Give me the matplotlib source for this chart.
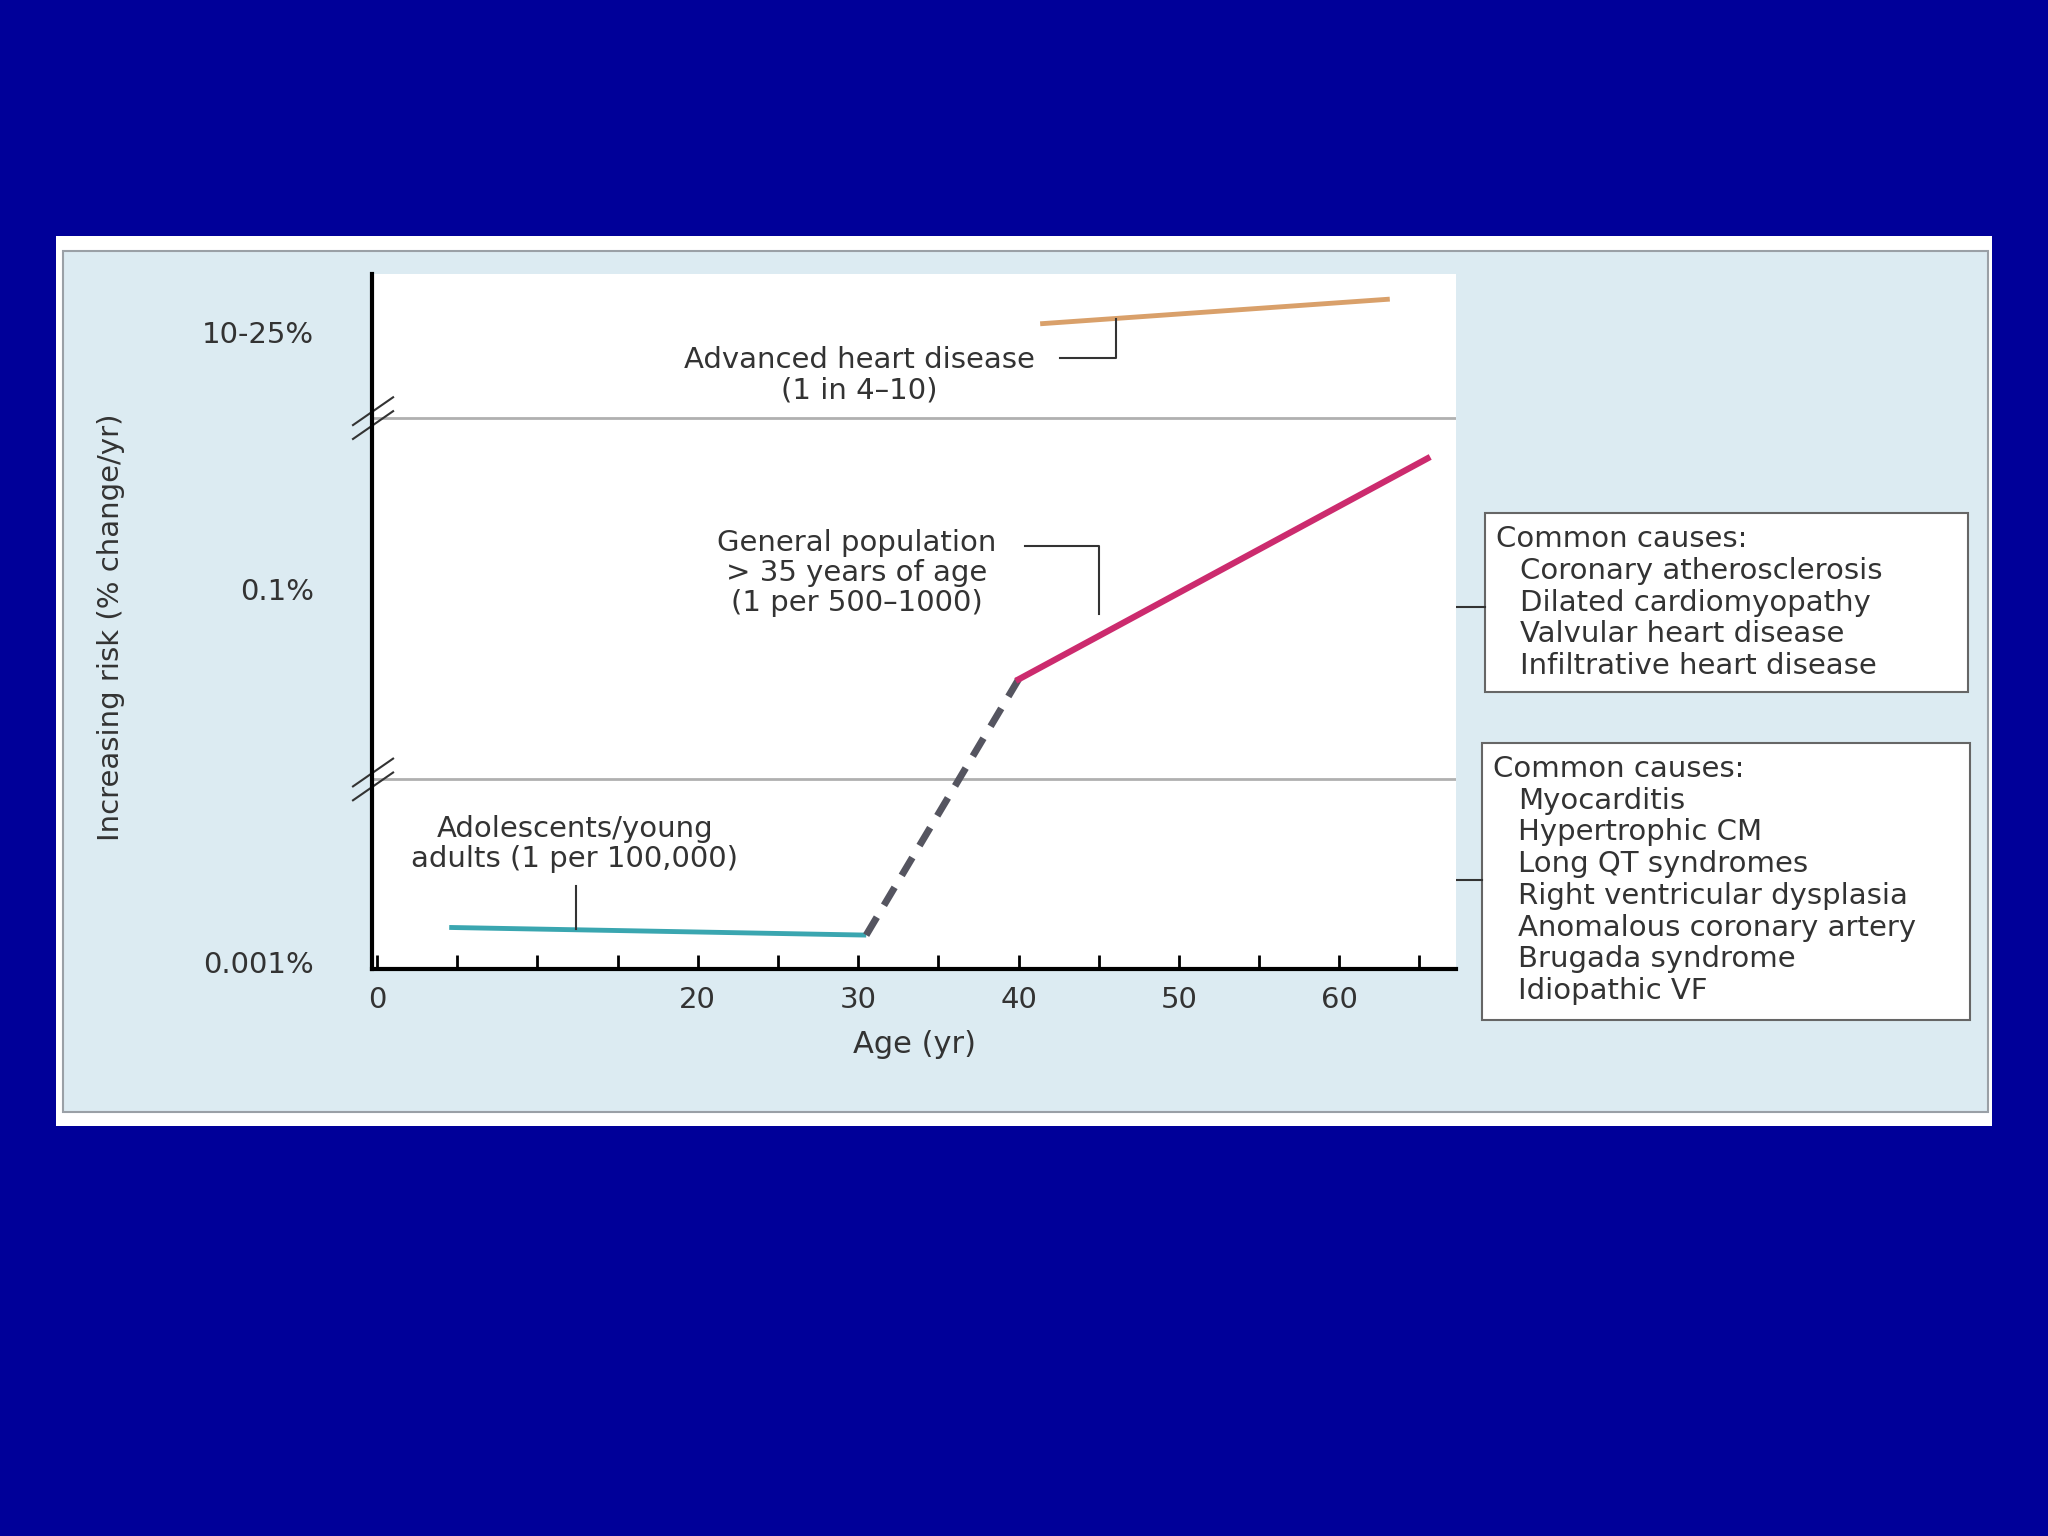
import matplotlib
matplotlib.use("Agg")
import matplotlib.pyplot as plt
from matplotlib.patches import Rectangle
from matplotlib.lines import Line2D

plt.rcParams['font.family'] = ['DejaVu Sans']

# data (arbitrary risk scale 0-100 with breaks)
young_age = [4.5, 30.5]; young_risk = [6.0, 4.9]
trans_age = [30.5, 40.0]; trans_risk = [4.9, 41.7]
gen_age = [40.0, 65.5]; gen_risk = [41.7, 73.5]
adv_age = [41.5, 63.0]; adv_risk = [92.9, 96.4]
ytick_pos = [1.0, 54.7, 91.7]
ytick_labels = ['0.001%', '0.1%', '10-25%']
xticks = [0, 10, 20, 30, 40, 50, 60]
xtick_labels = ['0', '', '20', '30', '40', '50', '60']
breaks = [27.3, 79.3]
causes1 = ['Coronary atherosclerosis', 'Dilated cardiomyopathy', 'Valvular heart disease', 'Infiltrative heart disease']
causes2 = ['Myocarditis', 'Hypertrophic CM', 'Long QT syndromes', 'Right ventricular dysplasia',
           'Anomalous coronary artery', 'Brugada syndrome', 'Idiopathic VF']

W, H = 1568, 1176
fig = plt.figure(figsize=(20.48, 15.36), dpi=100, facecolor='#000099')
def fx(x): return x / W
def fy(y): return 1 - y / H

fig.patches.append(Rectangle((fx(43), fy(862)), fx(1525) - fx(43), fy(181) - fy(862),
                             transform=fig.transFigure, facecolor='white', edgecolor='none', zorder=-2))
fig.patches.append(Rectangle((fx(48), fy(851)), fx(1522) - fx(48), fy(192) - fy(851),
                             transform=fig.transFigure, facecolor='#dcebf2', edgecolor='#9aa0a6', lw=1.5, zorder=-1))

ax = fig.add_axes([fx(285), fy(742), fx(1115) - fx(285), fy(210) - fy(742)])
ax.set_zorder(5)
ax.set_facecolor('white')
ax.set_xlim(-0.3, 67.3)
ax.set_ylim(0, 100)
for s in ['top', 'right']:
    ax.spines[s].set_visible(False)
for s in ['left', 'bottom']:
    ax.spines[s].set_linewidth(3)
ax.set_yticks(ytick_pos)
ax.set_yticklabels(ytick_labels, fontsize=21, color='#333333')
ax.tick_params(axis='y', length=0, pad=42)
ax.set_xticks(xticks)
ax.set_xticklabels(xtick_labels, fontsize=21, color='#333333')
ax.set_xticks([5, 15, 25, 35, 45, 55, 65], minor=True)
ax.tick_params(axis='x', which='both', direction='in', length=10, width=2, pad=12)
ax.set_xlabel('Age (yr)', fontsize=22, color='#333333', labelpad=12)

for b in breaks:
    ax.axhline(b, color='#b0b0b0', lw=2)
    for dy in (-1.0, 1.0):
        ax.plot([-1.5, 1.0], [b - 2 + dy, b + 2 + dy], color='#333333', lw=1.5, clip_on=False)

ax.plot(young_age, young_risk, color='#3aa6b0', lw=3.5, solid_capstyle='butt')
ax.plot(trans_age, trans_risk, color='#555560', lw=5, ls=(0, (3, 2)))
ax.plot(gen_age, gen_risk, color='#cc2b6e', lw=4.5)
ax.plot(adv_age, adv_risk, color='#d9a06a', lw=3.5)

# leaders
ax.plot([42.6, 46.1, 46.1], [88.0, 88.0, 93.6], color='#333333', lw=1.5)
ax.plot([40.4, 45.0, 45.0], [60.9, 60.9, 51.1], color='#333333', lw=1.5)
ax.plot([12.4, 12.4], [12.0, 5.8], color='#333333', lw=1.5)

tc = '#333333'
ax.text(0.449, 0.855, 'Advanced heart disease\n(1 in 4–10)', transform=ax.transAxes, ha='center', va='center', fontsize=21, color=tc, linespacing=1.1)
ax.text(0.447, 0.57, 'General population\n> 35 years of age\n(1 per 500–1000)', transform=ax.transAxes, ha='center', va='center', fontsize=21, color=tc, linespacing=1.1)
ax.text(0.187, 0.18, 'Adolescents/young\nadults (1 per 100,000)', transform=ax.transAxes, ha='center', va='center', fontsize=21, color=tc, linespacing=1.1)
fig.text(fx(85), fy(480), 'Increasing risk (% change/yr)', rotation=90, ha='center', va='center', fontsize=21, color=tc)

def box(x0, y0, x1, y1, lines, ly):
    fig.patches.append(Rectangle((fx(x0), fy(y1)), fx(x1) - fx(x0), fy(y0) - fy(y1),
                                 transform=fig.transFigure, facecolor='white', edgecolor='#666666', lw=1.5))
    fig.add_artist(Line2D([fx(1085), fx(x0)], [fy(ly), fy(ly)], color='#333333', lw=1.5))
    fig.text(fx(x0 + 8), fy(y0 + 20), 'Common causes:', ha='left', va='center', fontsize=21, color=tc)
    for i, t in enumerate(lines):
        fig.text(fx(x0 + 27), fy(y0 + 44 + 24.3 * i), t, ha='left', va='center', fontsize=21, color=tc)

box(1137, 393, 1507, 530, causes1, 465)
box(1135, 569, 1508, 781, causes2, 674)

fig.savefig('out.png', dpi=100, facecolor=fig.get_facecolor())
